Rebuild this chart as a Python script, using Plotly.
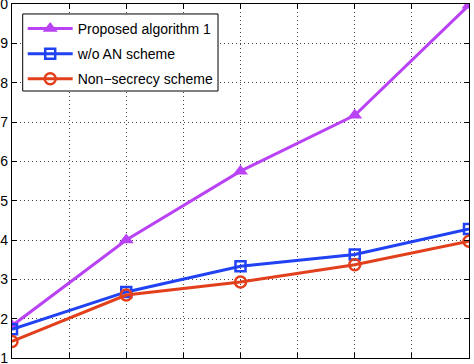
import plotly.graph_objects as go

x_vals = [0, 2, 4, 6, 8]
proposed = [1.82, 4.00, 5.75, 7.17, 9.97]
wo_an = [1.73, 2.68, 3.33, 3.63, 4.28]
non_secrecy = [1.42, 2.60, 2.93, 3.37, 3.97]
y_ticks = [1, 2, 3, 4, 5, 6, 7, 8, 9, 10]
x_ticks = [0, 1, 2, 3, 4, 5, 6, 7, 8]

fig = go.Figure()
fig.add_trace(go.Scatter(x=x_vals, y=proposed, mode="lines+markers", name="Proposed algorithm 1",
                         legendgroup="a",
                         line=dict(color="#B942F5", width=3),
                         marker=dict(symbol="triangle-up", size=13, color="#B942F5")))
fig.add_trace(go.Scatter(x=x_vals, y=wo_an, mode="lines+markers", name="w/o AN scheme",
                         legendgroup="b",
                         line=dict(color="#2142F2", width=3),
                         marker=dict(symbol="square-open", size=10, color="#2142F2", line=dict(width=2.5))))
fig.add_trace(go.Scatter(x=x_vals, y=non_secrecy, mode="lines+markers", name="Non\u2212secrecy scheme",
                         legendgroup="c",
                         line=dict(color="#E2401C", width=3),
                         marker=dict(symbol="circle-open", size=11, color="#E2401C", line=dict(width=2.5))))

axis_common = dict(showline=True, linecolor="black", linewidth=1.2, mirror="allticks",
                   ticks="inside", ticklen=5, tickcolor="black",
                   showgrid=True, gridcolor="#444444", griddash="1px,3px", gridwidth=1,
                   zeroline=False, automargin=False)
fig.update_xaxes(range=[0, 8], tickvals=x_ticks, showticklabels=False, **axis_common)
fig.update_yaxes(range=[1, 10], tickvals=y_ticks, ticktext=[str(v) for v in y_ticks],
                 tickfont=dict(size=14, color="black", family="Liberation Sans, Arial, sans-serif"),
                 ticklabelstandoff=0, ticklabeloverflow="allow", **axis_common)

# legend frame (drawn as a box so its padding matches the reference)
fig.add_shape(type="rect", xref="paper", yref="paper",
              x0=0.0234, x1=0.4508, y0=0.7542, y1=0.9718,
              line=dict(color="black", width=1), fillcolor="white", layer="above")

fig.update_layout(
    width=474, height=364,
    margin=dict(l=12, r=5, t=4, b=6),
    plot_bgcolor="white", paper_bgcolor="white",
    font=dict(family="Liberation Sans, Arial, sans-serif", size=14, color="black"),
    showlegend=True,
    legend=dict(x=0.0234, y=0.975, xanchor="left", yanchor="top",
                bgcolor="rgba(0,0,0,0)", borderwidth=0,
                font=dict(size=14), itemwidth=45, traceorder="grouped", tracegroupgap=4),
)

fig.write_html("out.html", config={"displayModeBar": False},
               post_script="document.body.style.margin='0';document.body.style.overflow='hidden';")
